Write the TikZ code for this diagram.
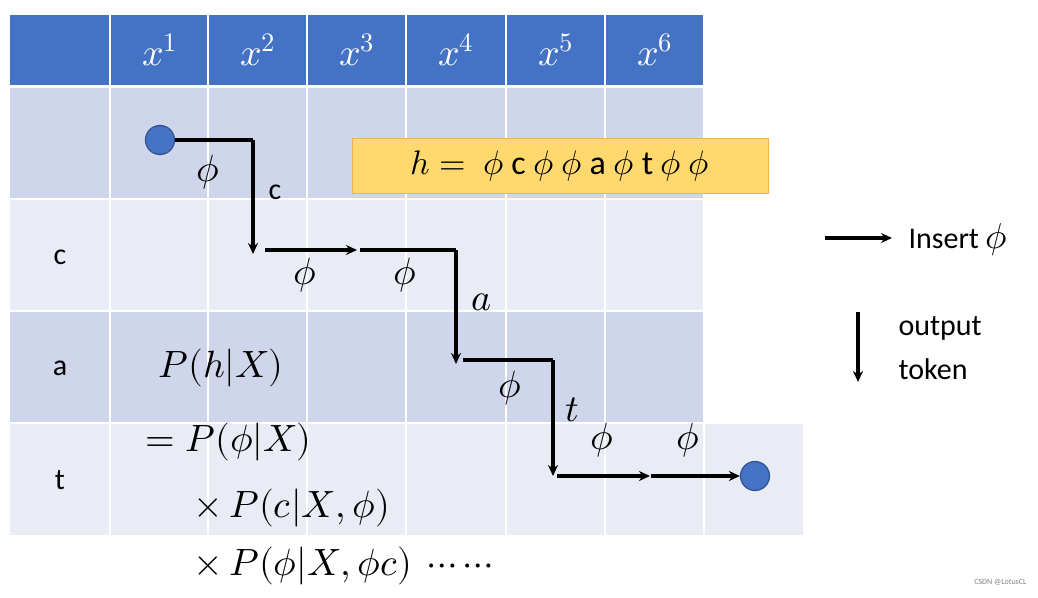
\documentclass[tikz,border=0pt]{standalone}
\usepackage{unicode-math}
\setmainfont{Carlito}
\setmathfont{Latin Modern Math}
\usetikzlibrary{arrows.meta}
\begin{document}
\begin{tikzpicture}[x=1pt,y=-1pt,
  arr/.style={line width=3.5pt,-{Stealth[length=11pt,width=10pt]}},
  lbl/.style={font=\fontsize{30}{44}\selectfont},
  mlbl/.style={font=\fontsize{38}{44}\selectfont},
  dot/.style={circle,minimum size=29pt,inner sep=0pt,draw={rgb,255:red,47;green,82;blue,143},line width=1.2pt,fill={rgb,255:red,68;green,114;blue,196}}]
\useasboundingbox (0,0) rectangle (1038,597);
\definecolor{hdr}{RGB}{68,114,196}
\definecolor{dk}{RGB}{207,213,234}
\definecolor{lt}{RGB}{233,235,245}
\fill[hdr] (10,15) rectangle (704,85);
\fill[dk] (10,88) rectangle (704,198);
\fill[lt] (10,200) rectangle (704,310);
\fill[dk] (10,312) rectangle (704,422);
\fill[lt] (10,424) rectangle (803,535);
\foreach \x in {110,208,307,406,506,605,704} \draw[white,line width=1.5pt] (\x,15) -- (\x,535);
\draw[white,line width=1.5pt] (10,86.5)--(704,86.5) (10,199)--(704,199) (10,311)--(704,311) (10,423)--(803,423);
\foreach \i/\x in {1/160,2/258,3/357,4/456,5/556,6/655}
  \node[white,mlbl] (h\i) at (\x,50) {$x^{\i}$};
\node[lbl] (rc) at (60,257) {c};
\node[lbl] (ra) at (60,368) {a};
\node[lbl] (rt) at (60,480) {t};
\node[dot] (s) at (160,140) {};
\node[dot] (e) at (755,476) {};
\coordinate (p1) at (253,140);
\coordinate (p2) at (253,254);
\coordinate (p3) at (265,250);\coordinate (p4) at (357,250);
\coordinate (p5) at (360,250);\coordinate (p6) at (456,250);
\coordinate (p7) at (456,364);
\coordinate (p8) at (463,360);\coordinate (p9) at (553,360);
\coordinate (p10) at (553,476);
\coordinate (p11) at (557,476);\coordinate (p12) at (650,476);
\coordinate (p13) at (651,476);
\draw[arr,-] (s.east) -- (p1);
\draw[arr] (p1) -- (p2);
\draw[arr] (p3) -- (p4);
\draw[arr,-] (p5) -- (p6);
\draw[arr] (p6) -- (p7);
\draw[arr,-] (p8) -- (p9);
\draw[arr] (p9) -- (p10);
\draw[arr] (p11) -- (p12);
\draw[arr] (p13) -- (e.west);
\node[mlbl] (l1) at (208,172) {$\phi$};
\node[lbl] (l2) at (275,192) {c};
\node[mlbl] (l3) at (305,275) {$\phi$};
\node[mlbl] (l4) at (405,275) {$\phi$};
\node[mlbl] (l5) at (482,302) {$a$};
\node[mlbl] (l6) at (510,388) {$\phi$};
\node[mlbl] (l7) at (572,410) {$t$};
\node[mlbl] (l8) at (602,440) {$\phi$};
\node[mlbl] (l9) at (688,440) {$\phi$};
\node[draw={rgb,255:red,244;green,177;blue,80},fill={rgb,255:red,255;green,217;blue,110},minimum width=416pt,minimum height=55pt,font=\fontsize{34}{40}\selectfont] (hb) at (560,166) {$h=\ \phi$ c $\phi$ $\phi$ a $\phi$ t $\phi$ $\phi$};
\coordinate (i1) at (825,238); \coordinate (i2) at (892,238);
\draw[arr] (i1) -- (i2);
\node[lbl,anchor=west] (it) at (905,240) {Insert {\fontsize{36}{40}\selectfont$\phi$}};
\coordinate (o1) at (858,312); \coordinate (o2) at (858,382);
\draw[arr] (o1) -- (o2);
\node[lbl,anchor=west,align=left] (ot) at (895,348) {output\\token};
\node[mlbl,anchor=west] (m1) at (155,368) {$P(h|X)$};
\node[mlbl,anchor=west] (m2) at (142,442) {$=P(\phi|X)$};
\node[mlbl,anchor=west] (m3) at (190,508) {$\times\,P(c|X,\phi)$};
\node[mlbl,anchor=west] (m4) at (190,566) {$\times\,P(\phi|X,\phi c)\ \cdots\cdots$};
\node[gray,font=\footnotesize,anchor=east] (wm) at (1030,582) {CSDN @LotusCL};
\end{tikzpicture}
\end{document}
